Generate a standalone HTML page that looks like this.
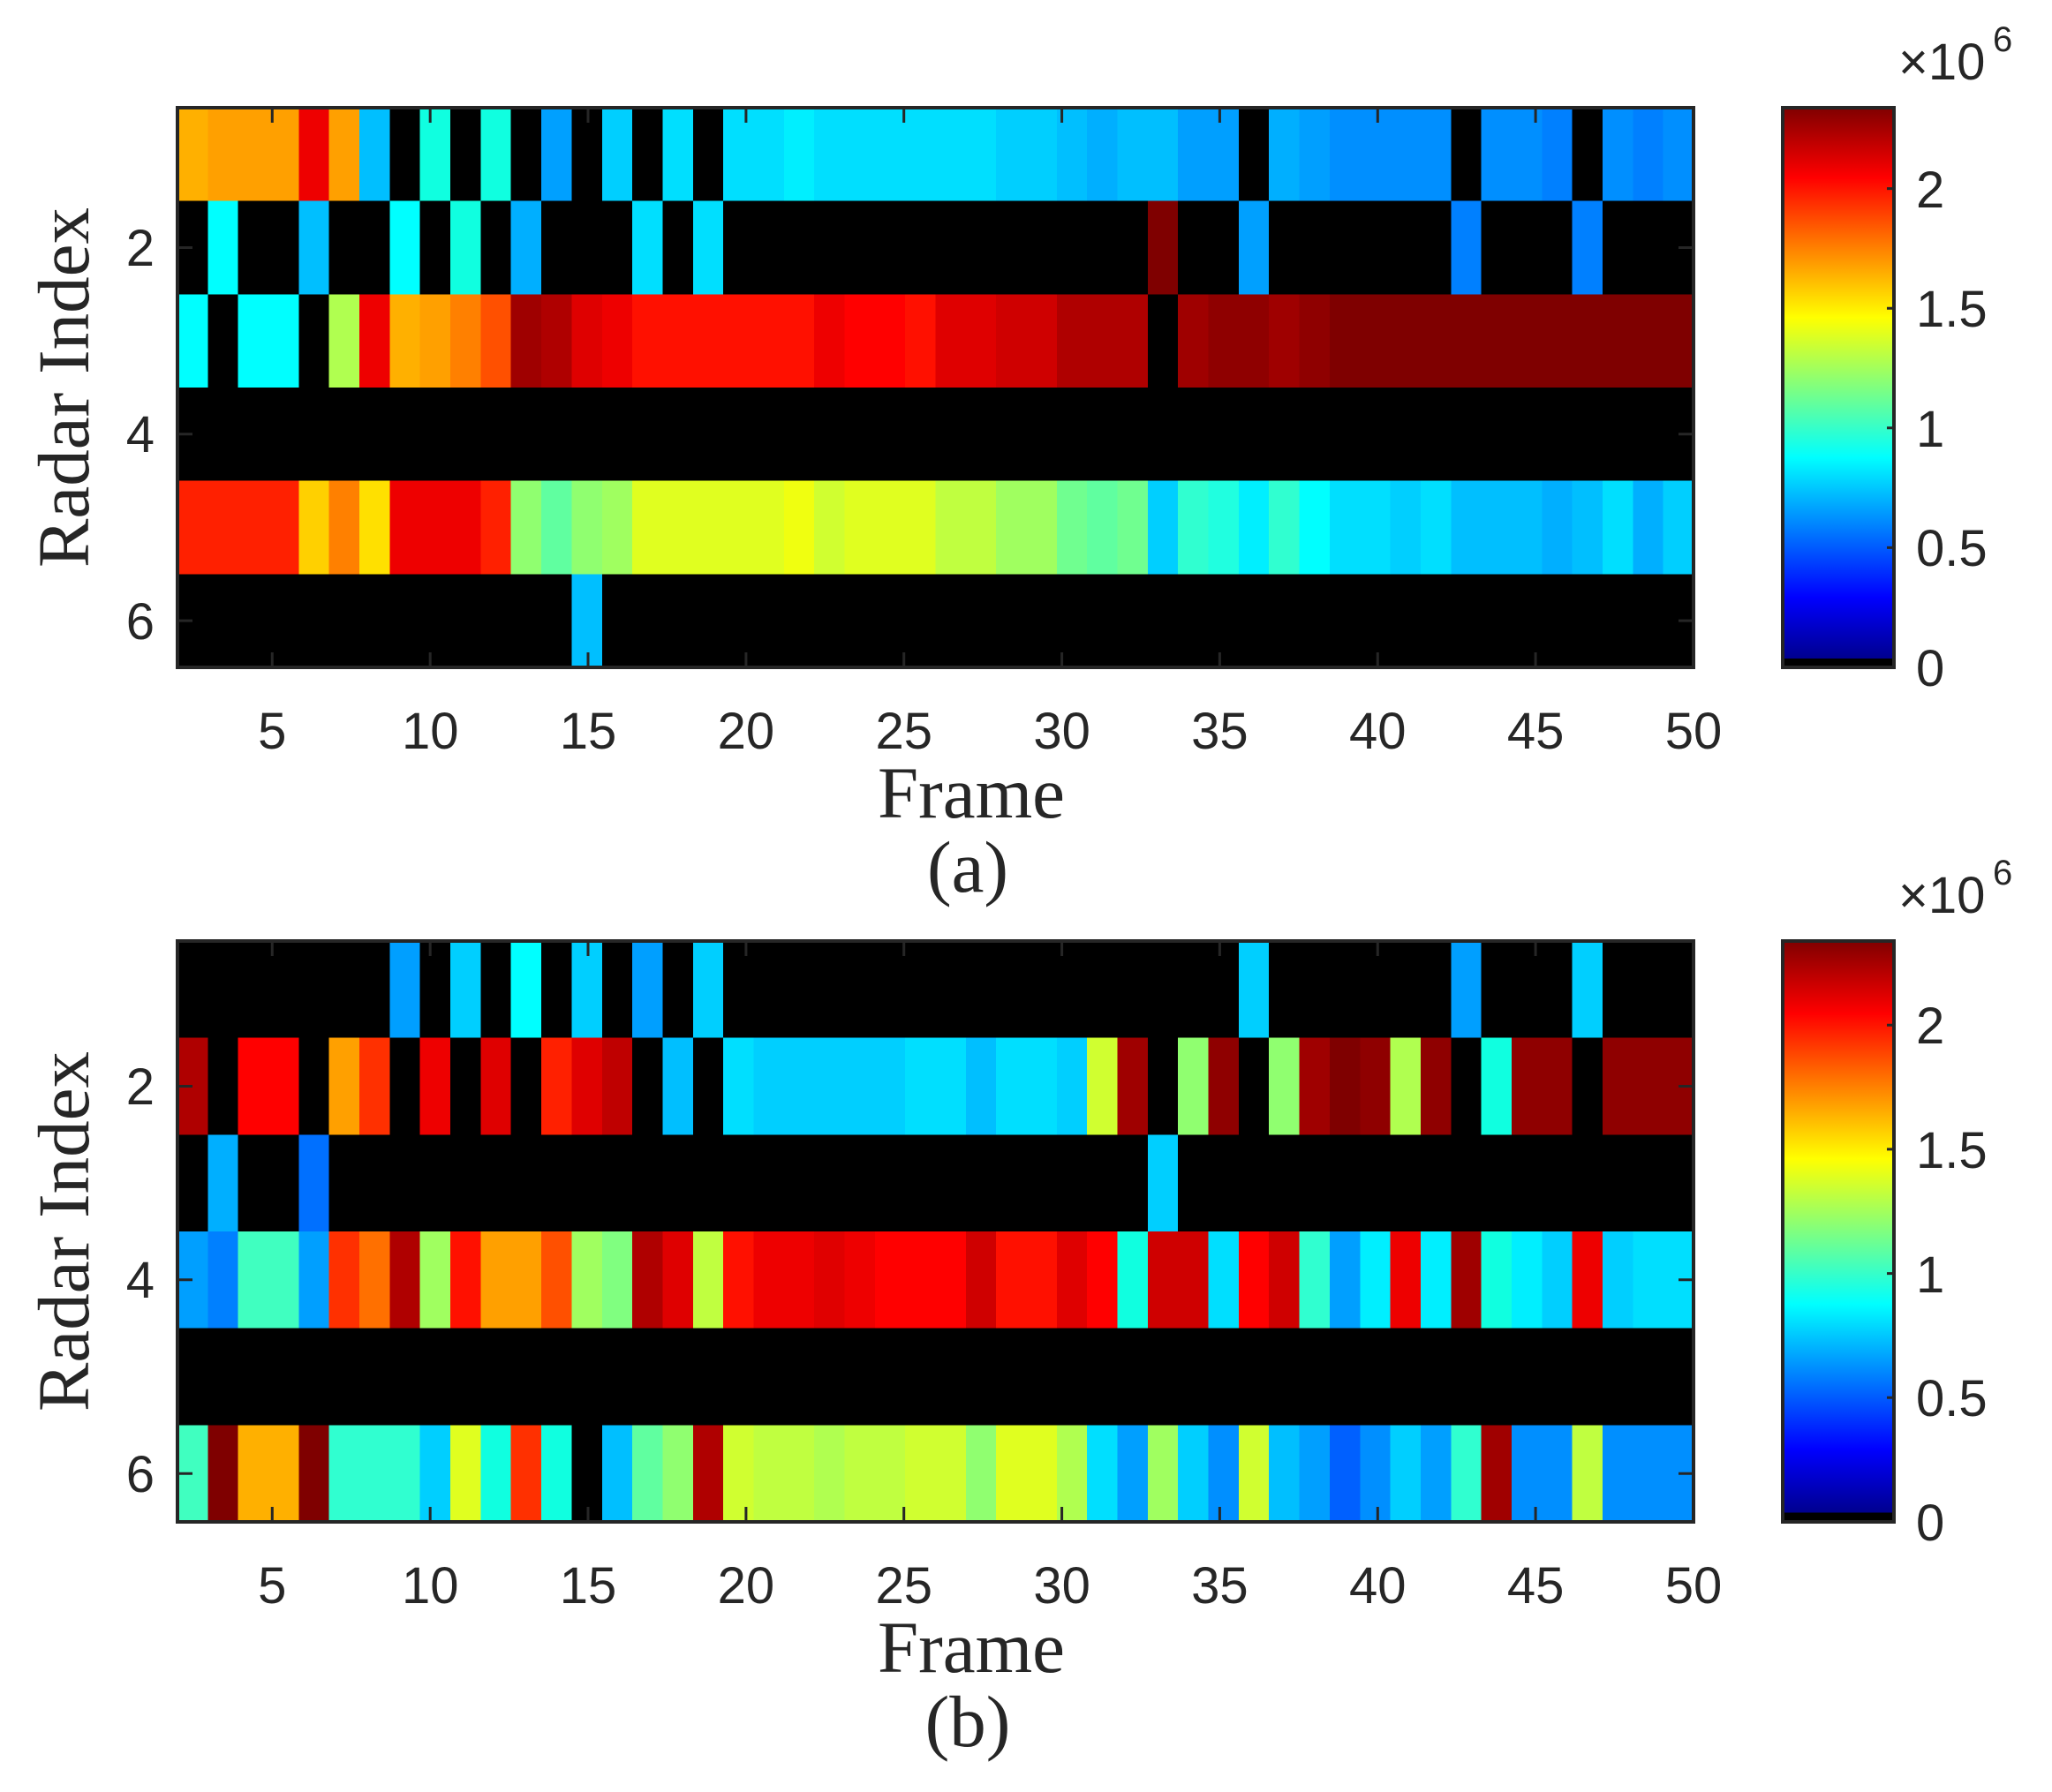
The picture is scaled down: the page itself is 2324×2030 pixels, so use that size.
<!DOCTYPE html>
<html><head><meta charset="utf-8"><style>html,body{margin:0;padding:0;background:#fff}svg{display:block}</style></head>
<body>
<svg width="2324" height="2030" viewBox="0 0 2324 2030" xmlns="http://www.w3.org/2000/svg">
<defs>
<linearGradient id="jet" x1="0" y1="1" x2="0" y2="0">
<stop offset="0" stop-color="#000"/><stop offset="0.016" stop-color="#000"/><stop offset="0.016" stop-color="#00008F"/>
<stop offset="0.125" stop-color="#0000FF"/><stop offset="0.375" stop-color="#00FFFF"/><stop offset="0.625" stop-color="#FFFF00"/>
<stop offset="0.875" stop-color="#FF0000"/><stop offset="1" stop-color="#800000"/>
</linearGradient>
</defs>
<rect width="2324" height="2030" fill="#fff"/>

<!-- Panel A -->
<rect x="201" y="122" width="1717" height="634" fill="#000"/>
<g transform="translate(201,122) scale(34.34,105.67)" shape-rendering="crispEdges">
<rect x="0" y="0" width="1" height="1" fill="#FFB000"/><rect x="1" y="0" width="3" height="1" fill="#FFA000"/><rect x="4" y="0" width="1" height="1" fill="#EE0000"/><rect x="5" y="0" width="1" height="1" fill="#FFA000"/><rect x="6" y="0" width="1" height="1" fill="#00BFFF"/><rect x="8" y="0" width="1" height="1" fill="#10FFE0"/><rect x="10" y="0" width="1" height="1" fill="#10FFE0"/><rect x="12" y="0" width="1" height="1" fill="#00A0FF"/><rect x="14" y="0" width="1" height="1" fill="#00CFFF"/><rect x="16" y="0" width="1" height="1" fill="#00DFFF"/><rect x="18" y="0" width="2" height="1" fill="#00DFFF"/><rect x="20" y="0" width="1" height="1" fill="#00EFFF"/><rect x="21" y="0" width="6" height="1" fill="#00DFFF"/><rect x="27" y="0" width="2" height="1" fill="#00CFFF"/><rect x="29" y="0" width="1" height="1" fill="#00BFFF"/><rect x="30" y="0" width="1" height="1" fill="#00AFFF"/><rect x="31" y="0" width="2" height="1" fill="#00BFFF"/><rect x="33" y="0" width="2" height="1" fill="#009FFF"/><rect x="36" y="0" width="1" height="1" fill="#00AFFF"/><rect x="37" y="0" width="1" height="1" fill="#009FFF"/><rect x="38" y="0" width="4" height="1" fill="#008FFF"/><rect x="43" y="0" width="2" height="1" fill="#008FFF"/><rect x="45" y="0" width="1" height="1" fill="#0080FF"/><rect x="47" y="0" width="1" height="1" fill="#008FFF"/><rect x="48" y="0" width="1" height="1" fill="#0080FF"/><rect x="49" y="0" width="1" height="1" fill="#008FFF"/>
<rect x="1" y="1" width="1" height="1" fill="#00FFFF"/><rect x="4" y="1" width="1" height="1" fill="#00BFFF"/><rect x="7" y="1" width="1" height="1" fill="#00FFFF"/><rect x="9" y="1" width="1" height="1" fill="#10FFE0"/><rect x="11" y="1" width="1" height="1" fill="#00AFFF"/><rect x="15" y="1" width="1" height="1" fill="#00DFFF"/><rect x="17" y="1" width="1" height="1" fill="#00DFFF"/><rect x="32" y="1" width="1" height="1" fill="#7F0000"/><rect x="35" y="1" width="1" height="1" fill="#00A0FF"/><rect x="42" y="1" width="1" height="1" fill="#0080FF"/><rect x="46" y="1" width="1" height="1" fill="#0080FF"/>
<rect x="0" y="2" width="1" height="1" fill="#00FFFF"/><rect x="2" y="2" width="2" height="1" fill="#00FFFF"/><rect x="5" y="2" width="1" height="1" fill="#B0FF50"/><rect x="6" y="2" width="1" height="1" fill="#EE0000"/><rect x="7" y="2" width="1" height="1" fill="#FFB000"/><rect x="8" y="2" width="1" height="1" fill="#FFA000"/><rect x="9" y="2" width="1" height="1" fill="#FF8000"/><rect x="10" y="2" width="1" height="1" fill="#FF5000"/><rect x="11" y="2" width="1" height="1" fill="#9F0000"/><rect x="12" y="2" width="1" height="1" fill="#AF0000"/><rect x="13" y="2" width="1" height="1" fill="#DF0000"/><rect x="14" y="2" width="1" height="1" fill="#EE0000"/><rect x="15" y="2" width="6" height="1" fill="#FF1000"/><rect x="21" y="2" width="1" height="1" fill="#EE0000"/><rect x="22" y="2" width="2" height="1" fill="#FF0000"/><rect x="24" y="2" width="1" height="1" fill="#FF1000"/><rect x="25" y="2" width="2" height="1" fill="#DF0000"/><rect x="27" y="2" width="2" height="1" fill="#CF0000"/><rect x="29" y="2" width="3" height="1" fill="#AF0000"/><rect x="33" y="2" width="1" height="1" fill="#9F0000"/><rect x="34" y="2" width="2" height="1" fill="#8F0000"/><rect x="36" y="2" width="1" height="1" fill="#9F0000"/><rect x="37" y="2" width="1" height="1" fill="#8F0000"/><rect x="38" y="2" width="12" height="1" fill="#7F0000"/>
<rect x="0" y="4" width="4" height="1" fill="#FF2000"/><rect x="4" y="4" width="1" height="1" fill="#FFD000"/><rect x="5" y="4" width="1" height="1" fill="#FF8000"/><rect x="6" y="4" width="1" height="1" fill="#FFE000"/><rect x="7" y="4" width="3" height="1" fill="#EE0000"/><rect x="10" y="4" width="1" height="1" fill="#FF2000"/><rect x="11" y="4" width="1" height="1" fill="#90FF70"/><rect x="12" y="4" width="1" height="1" fill="#60FFA0"/><rect x="13" y="4" width="1" height="1" fill="#90FF70"/><rect x="14" y="4" width="1" height="1" fill="#A0FF60"/><rect x="15" y="4" width="5" height="1" fill="#E0FF20"/><rect x="20" y="4" width="1" height="1" fill="#F0FF10"/><rect x="21" y="4" width="1" height="1" fill="#D0FF30"/><rect x="22" y="4" width="3" height="1" fill="#E0FF20"/><rect x="25" y="4" width="2" height="1" fill="#C0FF40"/><rect x="27" y="4" width="2" height="1" fill="#A0FF60"/><rect x="29" y="4" width="1" height="1" fill="#70FF90"/><rect x="30" y="4" width="1" height="1" fill="#60FFA0"/><rect x="31" y="4" width="1" height="1" fill="#70FF90"/><rect x="32" y="4" width="1" height="1" fill="#00CFFF"/><rect x="33" y="4" width="1" height="1" fill="#30FFD0"/><rect x="34" y="4" width="1" height="1" fill="#20FFE0"/><rect x="35" y="4" width="1" height="1" fill="#00EFFF"/><rect x="36" y="4" width="1" height="1" fill="#30FFD0"/><rect x="37" y="4" width="1" height="1" fill="#00FFFF"/><rect x="38" y="4" width="2" height="1" fill="#00DFFF"/><rect x="40" y="4" width="1" height="1" fill="#00CFFF"/><rect x="41" y="4" width="1" height="1" fill="#00DFFF"/><rect x="42" y="4" width="3" height="1" fill="#00BFFF"/><rect x="45" y="4" width="1" height="1" fill="#00AFFF"/><rect x="46" y="4" width="1" height="1" fill="#00BFFF"/><rect x="47" y="4" width="1" height="1" fill="#00DFFF"/><rect x="48" y="4" width="1" height="1" fill="#00AFFF"/><rect x="49" y="4" width="1" height="1" fill="#00CFFF"/>
<rect x="13" y="5" width="1" height="1" fill="#00BFFF"/>
</g>

<!-- Panel B -->
<rect x="201" y="1066" width="1717" height="658" fill="#000"/>
<g transform="translate(201,1066) scale(34.34,109.67)" shape-rendering="crispEdges">
<rect x="7" y="0" width="1" height="1" fill="#009FFF"/><rect x="9" y="0" width="1" height="1" fill="#00CFFF"/><rect x="11" y="0" width="1" height="1" fill="#00FFFF"/><rect x="13" y="0" width="1" height="1" fill="#00CFFF"/><rect x="15" y="0" width="1" height="1" fill="#009FFF"/><rect x="17" y="0" width="1" height="1" fill="#00CFFF"/><rect x="35" y="0" width="1" height="1" fill="#00CFFF"/><rect x="42" y="0" width="1" height="1" fill="#009FFF"/><rect x="46" y="0" width="1" height="1" fill="#00CFFF"/>
<rect x="0" y="1" width="1" height="1" fill="#AF0000"/><rect x="2" y="1" width="2" height="1" fill="#FF0000"/><rect x="5" y="1" width="1" height="1" fill="#FFA000"/><rect x="6" y="1" width="1" height="1" fill="#FF3000"/><rect x="8" y="1" width="1" height="1" fill="#EE0000"/><rect x="10" y="1" width="1" height="1" fill="#DF0000"/><rect x="12" y="1" width="1" height="1" fill="#FF2000"/><rect x="13" y="1" width="1" height="1" fill="#DF0000"/><rect x="14" y="1" width="1" height="1" fill="#BF0000"/><rect x="16" y="1" width="1" height="1" fill="#00BFFF"/><rect x="18" y="1" width="1" height="1" fill="#00DFFF"/><rect x="19" y="1" width="5" height="1" fill="#00CFFF"/><rect x="24" y="1" width="2" height="1" fill="#00DFFF"/><rect x="26" y="1" width="1" height="1" fill="#00BFFF"/><rect x="27" y="1" width="2" height="1" fill="#00DFFF"/><rect x="29" y="1" width="1" height="1" fill="#00CFFF"/><rect x="30" y="1" width="1" height="1" fill="#D0FF30"/><rect x="31" y="1" width="1" height="1" fill="#9F0000"/><rect x="33" y="1" width="1" height="1" fill="#90FF70"/><rect x="34" y="1" width="1" height="1" fill="#8F0000"/><rect x="36" y="1" width="1" height="1" fill="#90FF70"/><rect x="37" y="1" width="1" height="1" fill="#9F0000"/><rect x="38" y="1" width="1" height="1" fill="#7F0000"/><rect x="39" y="1" width="1" height="1" fill="#8F0000"/><rect x="40" y="1" width="1" height="1" fill="#B0FF50"/><rect x="41" y="1" width="1" height="1" fill="#8F0000"/><rect x="43" y="1" width="1" height="1" fill="#10FFE0"/><rect x="44" y="1" width="2" height="1" fill="#8F0000"/><rect x="47" y="1" width="3" height="1" fill="#8F0000"/>
<rect x="1" y="2" width="1" height="1" fill="#00AFFF"/><rect x="4" y="2" width="1" height="1" fill="#0070FF"/><rect x="32" y="2" width="1" height="1" fill="#00CFFF"/>
<rect x="0" y="3" width="1" height="1" fill="#009FFF"/><rect x="1" y="3" width="1" height="1" fill="#0080FF"/><rect x="2" y="3" width="2" height="1" fill="#40FFC0"/><rect x="4" y="3" width="1" height="1" fill="#009FFF"/><rect x="5" y="3" width="1" height="1" fill="#FF3000"/><rect x="6" y="3" width="1" height="1" fill="#FF7000"/><rect x="7" y="3" width="1" height="1" fill="#AF0000"/><rect x="8" y="3" width="1" height="1" fill="#A0FF60"/><rect x="9" y="3" width="1" height="1" fill="#FF1000"/><rect x="10" y="3" width="2" height="1" fill="#FFA000"/><rect x="12" y="3" width="1" height="1" fill="#FF5000"/><rect x="13" y="3" width="1" height="1" fill="#A0FF60"/><rect x="14" y="3" width="1" height="1" fill="#80FF80"/><rect x="15" y="3" width="1" height="1" fill="#AF0000"/><rect x="16" y="3" width="1" height="1" fill="#DF0000"/><rect x="17" y="3" width="1" height="1" fill="#C0FF40"/><rect x="18" y="3" width="1" height="1" fill="#FF1000"/><rect x="19" y="3" width="2" height="1" fill="#EE0000"/><rect x="21" y="3" width="1" height="1" fill="#E00000"/><rect x="22" y="3" width="1" height="1" fill="#EE0000"/><rect x="23" y="3" width="3" height="1" fill="#FF0000"/><rect x="26" y="3" width="1" height="1" fill="#CF0000"/><rect x="27" y="3" width="2" height="1" fill="#FF1000"/><rect x="29" y="3" width="1" height="1" fill="#DF0000"/><rect x="30" y="3" width="1" height="1" fill="#FF0000"/><rect x="31" y="3" width="1" height="1" fill="#10FFE0"/><rect x="32" y="3" width="2" height="1" fill="#CF0000"/><rect x="34" y="3" width="1" height="1" fill="#00DFFF"/><rect x="35" y="3" width="1" height="1" fill="#FF0000"/><rect x="36" y="3" width="1" height="1" fill="#CF0000"/><rect x="37" y="3" width="1" height="1" fill="#30FFD0"/><rect x="38" y="3" width="1" height="1" fill="#009FFF"/><rect x="39" y="3" width="1" height="1" fill="#00EFFF"/><rect x="40" y="3" width="1" height="1" fill="#EE0000"/><rect x="41" y="3" width="1" height="1" fill="#00EFFF"/><rect x="42" y="3" width="1" height="1" fill="#9F0000"/><rect x="43" y="3" width="1" height="1" fill="#10FFE0"/><rect x="44" y="3" width="1" height="1" fill="#00EFFF"/><rect x="45" y="3" width="1" height="1" fill="#00CFFF"/><rect x="46" y="3" width="1" height="1" fill="#EE0000"/><rect x="47" y="3" width="1" height="1" fill="#00CFFF"/><rect x="48" y="3" width="2" height="1" fill="#00DFFF"/>
<rect x="0" y="5" width="1" height="1" fill="#40FFC0"/><rect x="1" y="5" width="1" height="1" fill="#7F0000"/><rect x="2" y="5" width="2" height="1" fill="#FFB000"/><rect x="4" y="5" width="1" height="1" fill="#7F0000"/><rect x="5" y="5" width="3" height="1" fill="#30FFD0"/><rect x="8" y="5" width="1" height="1" fill="#00CFFF"/><rect x="9" y="5" width="1" height="1" fill="#E0FF20"/><rect x="10" y="5" width="1" height="1" fill="#10FFE0"/><rect x="11" y="5" width="1" height="1" fill="#FF3000"/><rect x="12" y="5" width="1" height="1" fill="#10FFE0"/><rect x="14" y="5" width="1" height="1" fill="#00BFFF"/><rect x="15" y="5" width="1" height="1" fill="#60FFA0"/><rect x="16" y="5" width="1" height="1" fill="#90FF70"/><rect x="17" y="5" width="1" height="1" fill="#AF0000"/><rect x="18" y="5" width="1" height="1" fill="#D0FF30"/><rect x="19" y="5" width="2" height="1" fill="#C0FF40"/><rect x="21" y="5" width="1" height="1" fill="#B0FF50"/><rect x="22" y="5" width="2" height="1" fill="#C0FF40"/><rect x="24" y="5" width="2" height="1" fill="#D0FF30"/><rect x="26" y="5" width="1" height="1" fill="#90FF70"/><rect x="27" y="5" width="2" height="1" fill="#E0FF20"/><rect x="29" y="5" width="1" height="1" fill="#B0FF50"/><rect x="30" y="5" width="1" height="1" fill="#00DFFF"/><rect x="31" y="5" width="1" height="1" fill="#009FFF"/><rect x="32" y="5" width="1" height="1" fill="#A0FF60"/><rect x="33" y="5" width="1" height="1" fill="#00CFFF"/><rect x="34" y="5" width="1" height="1" fill="#008FFF"/><rect x="35" y="5" width="1" height="1" fill="#D0FF30"/><rect x="36" y="5" width="1" height="1" fill="#00BFFF"/><rect x="37" y="5" width="1" height="1" fill="#009FFF"/><rect x="38" y="5" width="1" height="1" fill="#0060FF"/><rect x="39" y="5" width="1" height="1" fill="#008FFF"/><rect x="40" y="5" width="1" height="1" fill="#00CFFF"/><rect x="41" y="5" width="1" height="1" fill="#009FFF"/><rect x="42" y="5" width="1" height="1" fill="#30FFD0"/><rect x="43" y="5" width="1" height="1" fill="#A00000"/><rect x="44" y="5" width="2" height="1" fill="#008FFF"/><rect x="46" y="5" width="1" height="1" fill="#C0FF40"/><rect x="47" y="5" width="3" height="1" fill="#008FFF"/>
</g>

<!-- ticks & frames -->
<g stroke="#262626" stroke-width="3" fill="none">
<path d="M308.3,756v-17M487.2,756v-17M666,756v-17M844.9,756v-17M1023.7,756v-17M1202.6,756v-17M1381.4,756v-17M1560.3,756v-17M1739.1,756v-17
M308.3,122v17M487.2,122v17M666,122v17M844.9,122v17M1023.7,122v17M1202.6,122v17M1381.4,122v17M1560.3,122v17M1739.1,122v17
M201,280.5h17M201,491.8h17M201,703.1h17M1918,280.5h-17M1918,491.8h-17M1918,703.1h-17"/>
<path d="M308.3,1724v-17M487.2,1724v-17M666,1724v-17M844.9,1724v-17M1023.7,1724v-17M1202.6,1724v-17M1381.4,1724v-17M1560.3,1724v-17M1739.1,1724v-17
M308.3,1066v17M487.2,1066v17M666,1066v17M844.9,1066v17M1023.7,1066v17M1202.6,1066v17M1381.4,1066v17M1560.3,1066v17M1739.1,1066v17
M201,1230.5h17M201,1449.8h17M201,1669.2h17M1918,1230.5h-17M1918,1449.8h-17M1918,1669.2h-17"/>
</g>
<rect x="201" y="122" width="1717" height="634" fill="none" stroke="#262626" stroke-width="4"/>
<rect x="201" y="1066" width="1717" height="658" fill="none" stroke="#262626" stroke-width="4"/>

<!-- colorbars -->
<rect x="2019" y="122" width="126" height="634" fill="url(#jet)"/>
<rect x="2019" y="122" width="126" height="634" fill="none" stroke="#262626" stroke-width="4"/>
<rect x="2019" y="1066" width="126" height="658" fill="url(#jet)"/>
<rect x="2019" y="1066" width="126" height="658" fill="none" stroke="#262626" stroke-width="4"/>
<g stroke="#262626" stroke-width="3">
<path d="M2145,620.4h-8M2145,484.8h-8M2145,349.2h-8M2145,213.6h-8M2145,1583.3h-8M2145,1442.6h-8M2145,1301.9h-8M2145,1161.2h-8"/>
</g>

<g font-family="Liberation Sans, Arial, sans-serif" font-size="58" fill="#262626">
<g text-anchor="end">
<text x="175" y="301">2</text><text x="175" y="512">4</text><text x="175" y="724">6</text>
<text x="175" y="1251">2</text><text x="175" y="1470">4</text><text x="175" y="1690">6</text>
</g>
<g text-anchor="middle">
<text x="308.3" y="848">5</text><text x="487.2" y="848">10</text><text x="666" y="848">15</text><text x="844.9" y="848">20</text><text x="1023.7" y="848">25</text><text x="1202.6" y="848">30</text><text x="1381.4" y="848">35</text><text x="1560.3" y="848">40</text><text x="1739.1" y="848">45</text><text x="1918" y="848">50</text>
<text x="308.3" y="1816">5</text><text x="487.2" y="1816">10</text><text x="666" y="1816">15</text><text x="844.9" y="1816">20</text><text x="1023.7" y="1816">25</text><text x="1202.6" y="1816">30</text><text x="1381.4" y="1816">35</text><text x="1560.3" y="1816">40</text><text x="1739.1" y="1816">45</text><text x="1918" y="1816">50</text>
</g>
<text x="2170" y="777">0</text><text x="2170" y="641">0.5</text><text x="2170" y="506">1</text><text x="2170" y="370">1.5</text><text x="2170" y="235">2</text>
<text x="2170" y="1745">0</text><text x="2170" y="1604">0.5</text><text x="2170" y="1464">1</text><text x="2170" y="1323">1.5</text><text x="2170" y="1182">2</text>
<text x="2150" y="90">×10</text><text x="2257" y="58" font-size="40">6</text>
<text x="2150" y="1034">×10</text><text x="2257" y="1002" font-size="40">6</text>
</g>

<g font-family="Liberation Serif, Times New Roman, serif" font-size="83" fill="#262626" text-anchor="middle">
<text x="1100" y="926">Frame</text>
<text x="1096" y="1010">(a)</text>
<text x="1100" y="1894">Frame</text>
<text x="1096" y="1978">(b)</text>
<text transform="translate(100,439) rotate(-90)">Radar Index</text>
<text transform="translate(100,1395) rotate(-90)">Radar Index</text>
</g>
</svg>
</body></html>
